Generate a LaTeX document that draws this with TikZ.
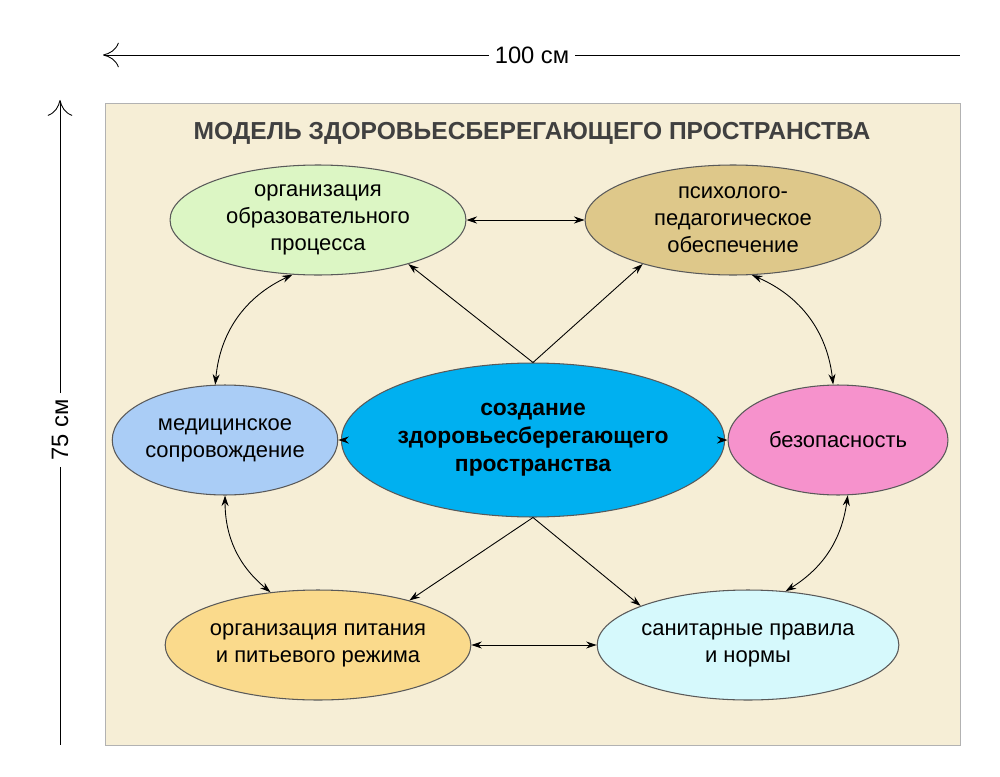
\documentclass[tikz,border=0pt]{standalone}
\usepackage{fontspec}
\setmainfont{Liberation Sans}
\usetikzlibrary{shapes.geometric,arrows.meta}
\tikzset{
  oval/.style={ellipse,draw=gray!70!black,line width=0.6pt,inner sep=0pt,align=center,
    font=\fontsize{12.5}{15.4}\selectfont},
  link/.style={-{Stealth[length=6pt,width=4pt]},line width=0.5pt},
  both/.style={{Stealth[length=6pt,width=4pt]}-{Stealth[length=6pt,width=4pt]},line width=0.5pt}
}
\begin{document}
\begin{tikzpicture}[x=0.02cm,y=-0.02cm]
  \useasboundingbox (0,0) rectangle (1000,777);
  % dimensions
  \node[font=\fontsize{13.5}{16}\selectfont] (w) at (532,55) {100 см};
  \coordinate (wl) at (103,55);
  \coordinate (wr) at (960,55);
  \draw[-{To[length=9pt,width=14pt]},line width=0.5pt] (w) -- (wl);
  \draw[line width=0.5pt] (w) -- (wr);
  \node[rotate=90,font=\fontsize{13.5}{16}\selectfont] (h) at (60,430) {75 см};
  \coordinate (ht) at (60,100);
  \coordinate (hb) at (60,745);
  \draw[-{To[length=9pt,width=14pt]},line width=0.5pt] (h) -- (ht);
  \draw[line width=0.5pt] (h) -- (hb);
  % panel
  \draw[gray!60,fill={rgb,255:red,246;green,238;blue,214}] (105,103) rectangle (960,745);
  \node[font=\fontsize{14}{17}\bfseries,text=black!75] (title) at (532,133)
    {МОДЕЛЬ ЗДОРОВЬЕСБЕРЕГАЮЩЕГО ПРОСТРАНСТВА};
  % ovals
  \node[oval,minimum width=5.92cm,minimum height=2.2cm,fill={rgb,255:red,220;green,246;blue,196}] (org) at (318,220)
    {организация\\образовательного\\процесса};
  \node[oval,minimum width=5.92cm,minimum height=2.2cm,fill={rgb,255:red,222;green,200;blue,138}] (psy) at (733,220)
    {психолого-\\педагогическое\\обеспечение};
  \node[oval,minimum width=4.4cm,minimum height=2.2cm,fill={rgb,255:red,170;green,205;blue,246}] (med) at (225,440)
    {медицинское\\сопровождение};
  \node[oval,minimum width=7.32cm,minimum height=3.08cm,fill={rgb,255:red,0;green,176;blue,240},
    font=\fontsize{13}{16}\bfseries] (c) at (533,440)
    {создание\\здоровьесберегающего\\пространства};
  \node[oval,minimum width=4.4cm,minimum height=2.2cm,fill={rgb,255:red,246;green,146;blue,204}] (bez) at (838,440)
    {безопасность};
  \node[oval,minimum width=5.92cm,minimum height=2.2cm,fill={rgb,255:red,250;green,218;blue,140}] (pit) at (318,645)
    {организация питания\\и питьевого режима};
  \node[oval,minimum width=5.92cm,minimum height=2.2cm,fill={rgb,255:red,214;green,249;blue,252}] (san) at (748,645)
    {санитарные правила\\и нормы};
  % connectors
  \draw[link] (c.north) -- (org.-26);
  \draw[link] (c.north) -- (psy.-154);
  \draw[link] (c.west) -- (med.east);
  \draw[link] (c.east) -- (bez.west);
  \draw[link] (c.south) -- (pit.26);
  \draw[link] (c.south) -- (san.160);
  \draw[both] (org.east) -- (psy.west);
  \draw[both] (pit.east) -- (san.west);
  \draw[both] (org.-115) to[bend right=30] (med.100);
  \draw[both] (psy.-71) to[bend left=30] (bez.95);
  \draw[both] (med.-90) to[bend right=25] (pit.132);
  \draw[both] (bez.-80) to[bend left=25] (san.55);
\end{tikzpicture}
\end{document}
